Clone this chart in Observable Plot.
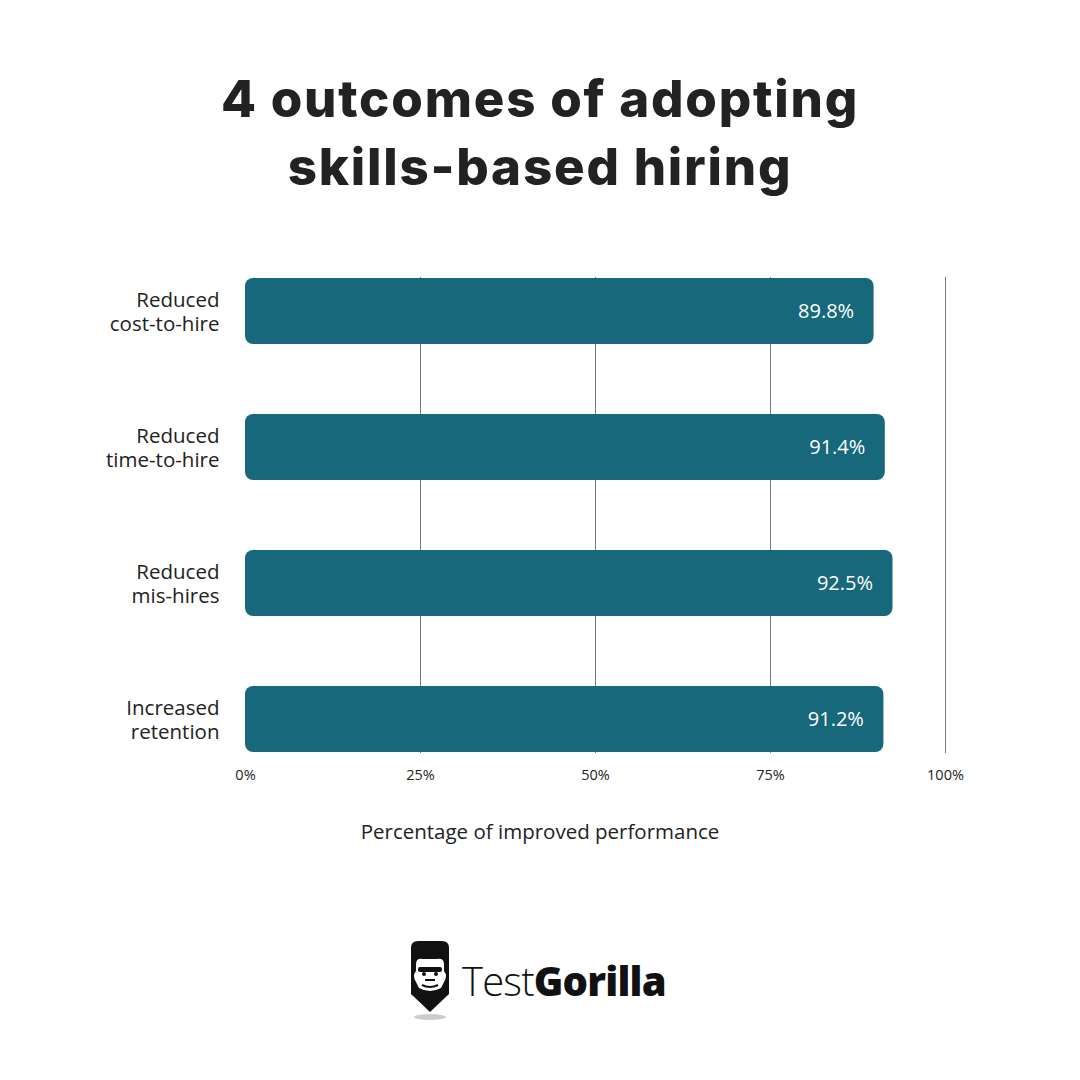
<!DOCTYPE html>
<html>
<head>
<meta charset="utf-8">
<script src="https://cdn.jsdelivr.net/npm/d3@7"></script>
<script src="https://cdn.jsdelivr.net/npm/@observablehq/plot@0.6"></script>
<style>
  html, body { margin: 0; padding: 0; background: #fff; }
  #page { position: relative; width: 1080px; height: 1080px; background: #fff; overflow: hidden; }
  #title { position: absolute; top: 65px; left: 0; width: 1080px; text-align: center;
    font-family: Inter, "Open Sans", sans-serif; font-weight: 800; font-size: 51px; line-height: 68px;
    color: #222; letter-spacing: 1.8px; }
  #chart { position: absolute; top: 250px; left: 0; }
  #xlabel { position: absolute; top: 817px; left: 0; width: 1080px; text-align: center;
    font-family: "Open Sans", sans-serif; font-size: 20.5px; color: #222; }
  #logo { position: absolute; top: 938px; left: 406px; display: flex; align-items: center; }
  #logo .word { font-family: "Open Sans", sans-serif; font-size: 40px; color: #111; margin-left: 6px; letter-spacing: -0.8px; }
  #logo .word .t { font-weight: 300; }
  #logo .word b { font-weight: 800; }
</style>
</head>
<body>
<div id="page">
  <div id="title">4 outcomes of adopting<br>skills-based hiring</div>
  <div id="chart"></div>
  <div id="xlabel">Percentage of improved performance</div>
  <div id="logo">
    <svg width="50" height="84" viewBox="0 0 50 84">
      <ellipse cx="24" cy="79" rx="16" ry="3" fill="#ccc"/>
      <path d="M5 10 Q5 3 12 3 L36 3 Q43 3 43 10 L43 56 L24 74 L5 56 Z" fill="#111"/>
      <path d="M10 26 Q10 20 17 21 L31 21 Q38 20 38 26 L38 33 Q42 38 38 44 L35 50 Q24 56 13 50 L10 44 Q6 38 10 33 Z" fill="#fff"/>
      <rect x="12" y="29" width="24" height="5" rx="2" fill="#111"/>
      <circle cx="18" cy="36" r="2" fill="#111"/>
      <circle cx="30" cy="36" r="2" fill="#111"/>
      <path d="M19 42 L29 42" stroke="#111" stroke-width="2"/>
      <path d="M16 47 Q24 51 32 47" stroke="#111" stroke-width="2" fill="none"/>
    </svg>
    <span class="word"><span class="t">Test</span><b>Gorilla</b></span>
  </div>
</div>
<script>
const categories = [
  "Reduced\ncost-to-hire",
  "Reduced\ntime-to-hire",
  "Reduced\nmis-hires",
  "Increased\nretention"
];
const values = [89.8, 91.4, 92.5, 91.2];
const xTicks = [0, 25, 50, 75, 100];
const gridValues = [25, 50, 75, 100];

const data = categories.map((c, i) => ({category: c, value: values[i]}));

const chart = Plot.plot({
  width: 1080,
  height: 620,
  marginLeft: 245,
  marginRight: 135,
  marginTop: 27,
  marginBottom: 117,
  style: {fontFamily: "'Open Sans', sans-serif", color: "#222", background: "transparent"},
  x: {domain: [0, 100], ticks: xTicks, label: null},
  y: {domain: categories, paddingInner: 0.517, paddingOuter: 0, label: null},
  marks: [
    Plot.ruleX(gridValues, {stroke: "#7a7a7a", strokeWidth: 1}),
    Plot.barX(data, {y: "category", x: "value", fill: "#17687b", rx: 8}),
    Plot.text(data, {y: "category", x: "value", text: d => d.value.toFixed(1) + "%",
      textAnchor: "end", dx: -20, fill: "#fff", fontSize: 20, fontWeight: 500}),
    Plot.axisX({ticks: xTicks, tickSize: 0, tickPadding: 16, fontSize: 14.5,
      tickFormat: d => d + "%", label: null}),
    Plot.axisY({tickSize: 0, tickPadding: 26, fontSize: 20.5, lineHeight: 1.18, label: null})
  ]
});
document.getElementById("chart").appendChild(chart);
</script>
</body>
</html>
